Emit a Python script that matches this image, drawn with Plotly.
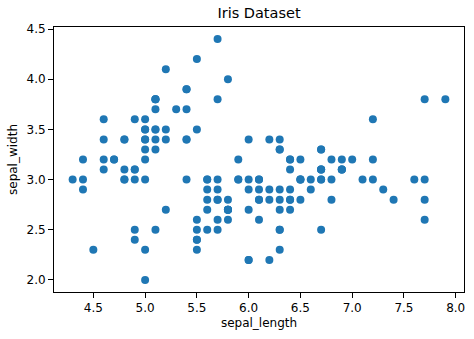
import plotly.graph_objects as go

sepal_length = [
    5.1, 4.9, 4.7, 4.6, 5.0, 5.4, 4.6, 5.0, 4.4, 4.9, 5.4, 4.8, 4.8, 4.3, 5.8, 5.7, 5.4, 5.1, 5.7, 5.1,
    5.4, 5.1, 4.6, 5.1, 4.8, 5.0, 5.0, 5.2, 5.2, 4.7, 4.8, 5.4, 5.2, 5.5, 4.9, 5.0, 5.5, 4.9, 4.4, 5.1,
    5.0, 4.5, 4.4, 5.0, 5.1, 4.8, 5.1, 4.6, 5.3, 5.0,
    7.0, 6.4, 6.9, 5.5, 6.5, 5.7, 6.3, 4.9, 6.6, 5.2, 5.0, 5.9, 6.0, 6.1, 5.6, 6.7, 5.6, 5.8, 6.2, 5.6,
    5.9, 6.1, 6.3, 6.1, 6.4, 6.6, 6.8, 6.7, 6.0, 5.7, 5.5, 5.5, 5.8, 6.0, 5.4, 6.0, 6.7, 6.3, 5.6, 5.5,
    5.5, 6.1, 5.8, 5.0, 5.6, 5.7, 5.7, 6.2, 5.1, 5.7,
    6.3, 5.8, 7.1, 6.3, 6.5, 7.6, 4.9, 7.3, 6.7, 7.2, 6.5, 6.4, 6.8, 5.7, 5.8, 6.4, 6.5, 7.7, 7.7, 6.0,
    6.9, 5.6, 7.7, 6.3, 6.7, 7.2, 6.2, 6.1, 6.4, 7.2, 7.4, 7.9, 6.4, 6.3, 6.1, 7.7, 6.3, 6.4, 6.0, 6.9,
    6.7, 6.9, 5.8, 6.8, 6.7, 6.7, 6.3, 6.5, 6.2, 5.9,
]
sepal_width = [
    3.5, 3.0, 3.2, 3.1, 3.6, 3.9, 3.4, 3.4, 2.9, 3.1, 3.7, 3.4, 3.0, 3.0, 4.0, 4.4, 3.9, 3.5, 3.8, 3.8,
    3.4, 3.7, 3.6, 3.3, 3.4, 3.0, 3.4, 3.5, 3.4, 3.2, 3.1, 3.4, 4.1, 4.2, 3.1, 3.2, 3.5, 3.6, 3.0, 3.4,
    3.5, 2.3, 3.2, 3.5, 3.8, 3.0, 3.8, 3.2, 3.7, 3.3,
    3.2, 3.2, 3.1, 2.3, 2.8, 2.8, 3.3, 2.4, 2.9, 2.7, 2.0, 3.0, 2.2, 2.9, 2.9, 3.1, 3.0, 2.7, 2.2, 2.5,
    3.2, 2.8, 2.5, 2.8, 2.9, 3.0, 2.8, 3.0, 2.9, 2.6, 2.4, 2.4, 2.7, 2.7, 3.0, 3.4, 3.1, 2.3, 3.0, 2.5,
    2.6, 3.0, 2.6, 2.3, 2.7, 3.0, 2.9, 2.9, 2.5, 2.8,
    3.3, 2.7, 3.0, 2.9, 3.0, 3.0, 2.5, 2.9, 2.5, 3.6, 3.2, 2.7, 3.0, 2.5, 2.8, 3.2, 3.0, 3.8, 2.6, 2.2,
    3.2, 2.8, 2.8, 2.7, 3.3, 3.2, 2.8, 3.0, 2.8, 3.0, 2.8, 3.8, 2.8, 2.8, 2.6, 3.0, 3.4, 3.1, 3.0, 3.1,
    3.1, 3.1, 2.7, 3.2, 3.3, 3.0, 2.5, 3.0, 3.4, 3.0,
]
x_ticks = [4.5, 5.0, 5.5, 6.0, 6.5, 7.0, 7.5, 8.0]
y_ticks = [2.0, 2.5, 3.0, 3.5, 4.0, 4.5]

fig = go.Figure(go.Scatter(
    x=sepal_length, y=sepal_width, mode="markers",
    marker=dict(color="#1f77b4", size=8, line=dict(width=0)),
))

axis_common = dict(
    showgrid=False, zeroline=False, showline=True, linecolor="black", linewidth=1,
    mirror=True, ticks="outside", ticklen=5, tickcolor="black", tickwidth=1,
    tickfont=dict(family="DejaVu Sans", size=12, color="black"),
    title_font=dict(family="DejaVu Sans", size=12, color="black"),
)

fig.update_layout(
    width=474, height=339,
    margin=dict(l=54, r=10, t=27, b=47),
    plot_bgcolor="white", paper_bgcolor="white",
    title=dict(text="Iris Dataset", x=0.5, xref="paper", xanchor="center",
               y=1, yref="paper", yanchor="bottom", pad=dict(b=9),
               font=dict(family="DejaVu Sans", size=14.5, color="black")),
    xaxis=dict(range=[4.12, 8.08], tickvals=x_ticks, ticktext=[f"{v:.1f}" for v in x_ticks],
               title=dict(text="sepal_length", standoff=4), **axis_common),
    yaxis=dict(range=[1.88, 4.52], tickvals=y_ticks, ticktext=[f"{v:.1f}" for v in y_ticks],
               title=dict(text="sepal_width", standoff=6), **axis_common),
    showlegend=False,
)

fig.write_html("out.html")
